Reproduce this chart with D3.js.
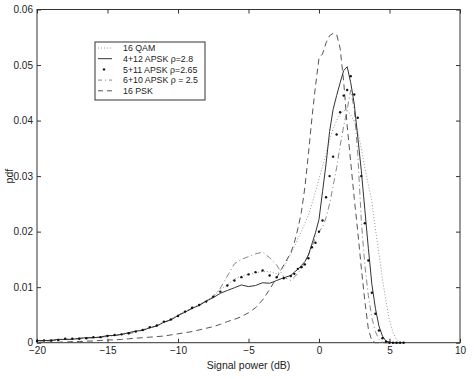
<!DOCTYPE html>
<html>
<head>
<meta charset="utf-8">
<script src="https://cdn.jsdelivr.net/npm/d3@7"></script>
<style>
body { margin: 0; background: #fff; }
text { font-family: "Liberation Sans", Arial, sans-serif; }
</style>
</head>
<body>
<div id="chart-area"></div>
<script>
var width = 474;
var height = 379;

// signal power grid (dB)
var power = [-20,-19.5,-19,-18.5,-18,-17.5,-17,-16.5,-16,-15.5,-15,-14.5,-14,-13.5,-13,-12.5,-12,-11.5,-11,-10.5,
    -10,-9.5,-9,-8.5,-8,-7.5,-7,-6.5,-6,-5.5,-5,-4.5,-4,-3.5,-3,-2.5,-2,
    -1.75,-1.5,-1.25,-1,-0.75,-0.5,-0.25,0,0.25,0.5,0.75,1,1.25,1.5,1.75,2,2.25,2.5,2.75,3,3.25,3.5,3.75,4,4.25,4.5,4.75,5,5.25,5.5,5.75,6];

var qam16 = [.0003,.0004,.0005,.0005,.0006,.0007,.0008,.0008,.0009,.0011,.0012,.0013,.0016,.0017,.0020,.0024,.0027,.0032,.0037,.0043,
    .0050,.0057,.0063,.0069,.0076,.0084,.0096,.0104,.0115,.0120,.0123,.0126,.0128,.0128,.0124,.0135,.0160,
    .0172,.0187,.0200,.0215,.0230,.0250,.0272,.0295,.0318,.0340,.0365,.0385,.0400,.0412,.0418,.0418,.0410,.0398,.0382,.0350,.0315,.0285,.0255,.0205,.0160,.0115,.0075,.0040,.0018,.0006,.0001,0];

var apsk4_12 = [.0004,.0004,.0004,.0006,.0006,.0006,.0008,.0009,.0009,.0010,.0013,.0013,.0015,.0018,.0021,.0022,.0027,.0030,.0037,.0041,
    .0049,.0055,.0062,.0067,.0075,.0081,.0089,.0094,.0099,.0104,.0101,.0103,.0108,.0107,.0112,.0117,.0121,
    .0127,.0132,.0139,.0146,.0158,.0178,.0198,.0222,.0272,.0322,.0380,.0420,.0445,.0468,.0490,.0497,.0468,.0430,.0370,.0310,.0240,.0170,.0105,.0062,.0030,.0012,.0003,.0001,0,0,0,0];

var apsk5_11 = [.0003,.0004,.0004,.0005,.0007,.0007,.0007,.0008,.0010,.0010,.0012,.0014,.0015,.0017,.0020,.0023,.0028,.0031,.0038,.0042,
    .0048,.0056,.0063,.0068,.0074,.0083,.0092,.0103,.0112,.0118,.0123,.0127,.0130,.0121,.0118,.0116,.0120,
    .0124,.0133,.0136,.0141,.0152,.0172,.0180,.0200,.0220,.0262,.0300,.0335,.0375,.0415,.0445,.0455,.0480,.0447,.0405,.0300,.0215,.0148,.0090,.0052,.0022,.0008,.0002,0,0,0,0,0];

var apsk6_10 = [.0003,.0003,.0004,.0005,.0006,.0006,.0007,.0008,.0009,.0010,.0011,.0013,.0015,.0016,.0019,.0023,.0026,.0031,.0036,.0042,
    .0049,.0056,.0061,.0068,.0075,.0083,.0098,.0120,.0142,.0150,.0155,.0160,.0163,.0153,.0140,.0118,.0112,
    .0118,.0125,.0133,.0145,.0158,.0172,.0190,.0200,.0208,.0225,.0250,.0282,.0315,.0355,.0390,.0420,.0455,.0420,.0340,.0220,.0140,.0085,.0045,.0020,.0006,.0001,0,0,0,0,0,0];

var psk16 = [0,.0001,.0001,.0001,.0001,.0002,.0002,.0003,.0003,.0004,.0005,.0005,.0006,.0007,.0008,.0009,.0010,.0011,.0012,.0014,
    .0016,.0018,.0020,.0023,.0026,.0029,.0033,.0038,.0042,.0047,.0054,.0063,.0077,.0096,.0117,.0140,.0162,
    .0180,.0205,.0235,.0280,.0340,.0405,.0462,.0512,.0520,.0540,.0553,.0557,.0555,.0530,.0470,.0390,.0325,.0260,.0200,.0135,.0075,.0025,.0003,0,0,0,0,0,0,0,0,0];

var seriesNames = ["16 QAM", "4+12 APSK \u03c1=2.8", "5+11 APSK \u03c1=2.65", "6+10 APSK \u03c1 = 2.5", "16 PSK"];
var xTicks = [-20, -15, -10, -5, 0, 5, 10];
var yTicks = [0, 0.01, 0.02, 0.03, 0.04, 0.05, 0.06];

var svg = d3.select("#chart-area").append("svg")
    .attr("width", width)
    .attr("height", height);

var plotLeft = 37, plotRight = 460, plotTop = 9.5, plotBottom = 342.7;

var scaleX = d3.scaleLinear()
    .domain([-20, 10])
    .range([plotLeft, plotRight]);

var scaleY = d3.scaleLinear()
    .domain([0, 0.06])
    .range([plotBottom, plotTop]);

// axes with ticks pointing inwards
svg.append("g")
    .attr("transform", "translate(0," + plotBottom + ")")
    .call(d3.axisBottom(scaleX).tickValues(xTicks).tickSizeInner(-4).tickSizeOuter(0).tickPadding(4));

svg.append("g")
    .attr("transform", "translate(0," + plotTop + ")")
    .call(d3.axisTop(scaleX).tickValues(xTicks).tickSizeInner(-4).tickSizeOuter(0).tickFormat(""));

svg.append("g")
    .attr("transform", "translate(" + plotLeft + ",0)")
    .call(d3.axisLeft(scaleY).tickValues(yTicks).tickSizeInner(-4).tickSizeOuter(0).tickPadding(4)
        .tickFormat(function(d){ return d === 0 ? "0" : d3.format(".2f")(d); }));

svg.append("g")
    .attr("transform", "translate(" + plotRight + ",0)")
    .call(d3.axisRight(scaleY).tickValues(yTicks).tickSizeInner(-4).tickSizeOuter(0).tickFormat(""));

svg.selectAll(".domain").remove();
svg.selectAll(".tick line").attr("stroke", "#333");
svg.selectAll(".tick text").attr("fill", "#222").style("font-size", "10px");

// frame
svg.append("rect")
    .attr("x", plotLeft)
    .attr("y", plotTop)
    .attr("width", plotRight - plotLeft)
    .attr("height", plotBottom - plotTop)
    .attr("fill", "none")
    .attr("stroke", "#333")
    .attr("stroke-width", 1);

// curves
function pts(values) {
    return power.map(function(p, i){ return [p, values[i]]; });
}

var line = d3.line()
    .x(function(d){ return scaleX(d[0]); })
    .y(function(d){ return scaleY(d[1]); });

svg.append("path")
    .attr("d", line(pts(qam16)))
    .attr("fill", "none")
    .attr("stroke", "#999")
    .attr("stroke-width", 1)
    .attr("stroke-dasharray", "1,2");

svg.append("path")
    .attr("d", line(pts(apsk6_10)))
    .attr("fill", "none")
    .attr("stroke", "#888")
    .attr("stroke-width", 1)
    .attr("stroke-dasharray", "6,3,1,3");

svg.append("path")
    .attr("d", line(pts(psk16)))
    .attr("fill", "none")
    .attr("stroke", "#555")
    .attr("stroke-width", 1)
    .attr("stroke-dasharray", "6,4");

svg.append("path")
    .attr("d", line(pts(apsk4_12)))
    .attr("fill", "none")
    .attr("stroke", "#333")
    .attr("stroke-width", 1);

svg.selectAll("circle.dot")
    .data(pts(apsk5_11))
    .enter()
    .append("circle")
    .attr("class", "dot")
    .attr("cx", function(d){ return scaleX(d[0]); })
    .attr("cy", function(d){ return scaleY(d[1]); })
    .attr("r", 1.2)
    .attr("fill", "#111");

// axis labels
svg.append("text")
    .text("Signal power (dB)")
    .attr("x", (plotLeft + plotRight) / 2)
    .attr("y", 369)
    .attr("text-anchor", "middle")
    .attr("fill", "#222")
    .style("font-size", "10.5px");

svg.append("text")
    .text("pdf")
    .attr("transform", "translate(13," + ((plotTop + plotBottom) / 2) + ") rotate(-90)")
    .attr("text-anchor", "middle")
    .attr("fill", "#222")
    .style("font-size", "10.5px");

// legend
var lg = svg.append("g");

lg.append("rect")
    .attr("x", 95)
    .attr("y", 42)
    .attr("width", 110)
    .attr("height", 58)
    .attr("fill", "#fff")
    .attr("stroke", "#333")
    .attr("stroke-width", 1);

var styles = [
    {stroke: "#999", dash: "1,2"},
    {stroke: "#333", dash: null},
    {stroke: null, dash: null},
    {stroke: "#888", dash: "4,3,1,3"},
    {stroke: "#555", dash: "5,4"}
];

seriesNames.forEach(function(name, i){
    var yy = 48 + i * 10.7;
    if (styles[i].stroke) {
        lg.append("line")
            .attr("x1", 98)
            .attr("x2", 112)
            .attr("y1", yy)
            .attr("y2", yy)
            .attr("stroke", styles[i].stroke)
            .attr("stroke-dasharray", styles[i].dash);
    } else {
        lg.append("circle")
            .attr("cx", 104)
            .attr("cy", yy)
            .attr("r", 1.2)
            .attr("fill", "#111");
    }
    lg.append("text")
        .text(name)
        .attr("x", 123)
        .attr("y", yy + 3.3)
        .attr("fill", "#222")
        .style("font-size", "8.8px");
});
</script>
</body>
</html>
